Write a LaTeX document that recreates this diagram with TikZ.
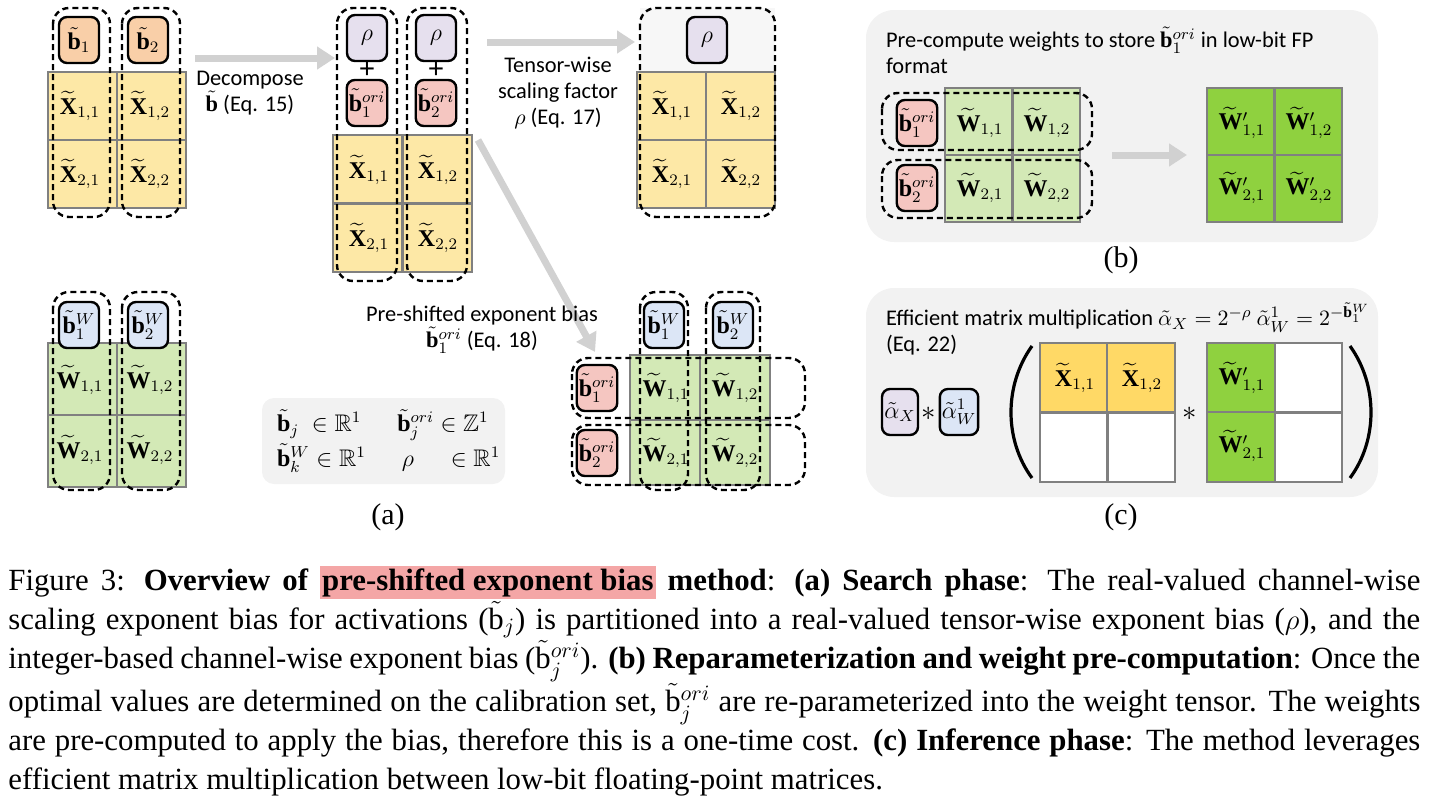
\documentclass[tikz,border=0pt]{standalone}
\usepackage{amsmath,amssymb}
\usepackage{fontspec}
\setmainfont{Liberation Serif}
\newfontfamily\labfont{Carlito}
\usepackage{xcolor}
\usetikzlibrary{arrows.meta}
\definecolor{peach}{HTML}{F9CFA8}
\definecolor{lyellow}{HTML}{FDE8A6}
\definecolor{gyellow}{HTML}{FFD966}
\definecolor{lgreen}{HTML}{D3E9B6}
\definecolor{dgreen}{HTML}{8FD13F}
\definecolor{lpurple}{HTML}{E6E0EE}
\definecolor{lpink}{HTML}{F5C6C1}
\definecolor{lblue}{HTML}{DCE6F6}
\definecolor{panel}{HTML}{F2F2F2}
\definecolor{hlpink}{HTML}{F4A6A6}
\newcommand\Xc[2]{$\widetilde{\mathbf{X}}_{#1,#2}$}
\newcommand\Wc[2]{$\widetilde{\mathbf{W}}_{#1,#2}$}
\newcommand\Wp[2]{$\widetilde{\mathbf{W}}'_{#1,#2}$}
\newcommand\bori[1]{$\tilde{\mathbf b}_{#1}^{ori}$}
\newcommand\bW[1]{$\tilde{\mathbf b}_{#1}^{W}$}
% 2x2 grid: x1,y1,x2,y2,fill
\newcommand\gridbox[5]{%
  \fill[#5] (#1,#2) rectangle (#3,#4);
  \draw[gridline] (#1,#2) rectangle (#3,#4)
    ({(#1+#3)/2},#2) -- ({(#1+#3)/2},#4) (#1,{(#2+#4)/2}) -- (#3,{(#2+#4)/2});}
\begin{document}
\begin{tikzpicture}[x=0.5pt, y=-0.5pt,
  gridline/.style={draw=black!50, line width=1.2pt},
  dashbox/.style={draw, dashed, line width=1.2pt, rounded corners=8pt, dash pattern=on 3pt off 2pt},
  bnode/.style={draw, line width=1.2pt, rounded corners=4pt, minimum width=20pt, minimum height=23pt, inner sep=1pt, font=\large},
  cell/.style={inner sep=0pt, font=\large},
  lab/.style={font=\labfont\fontsize{11.2}{13}\selectfont, align=center},
  garrow/.style={draw=black!18, line width=3.5pt, -{Triangle[length=9pt,width=11pt]}},
  paren/.style={line width=1.6pt},
  sub/.style={font=\fontsize{15}{18}\selectfont}]
\useasboundingbox (0,0) rectangle (1431,798);

% ---------- (a) ----------
\gridbox{48}{72}{186}{208}{lyellow}
\draw[dashbox] (53,8) rectangle (110,217);
\draw[dashbox] (122,8) rectangle (180,217);
\node[bnode, fill=peach] (b1) at (79,40) {$\tilde{\mathbf b}_1$};
\node[bnode, fill=peach] (b2) at (148,40) {$\tilde{\mathbf b}_2$};
\node[cell] (xa11) at (80,106) {\Xc11};
\node[cell] (xa12) at (150,106) {\Xc12};
\node[cell] (xa21) at (80,174) {\Xc21};
\node[cell] (xa22) at (150,174) {\Xc22};

\coordinate (dec0) at (195,58);
\coordinate (dec1) at (335,58);
\draw[garrow] (dec0) -- (dec1);
\node[lab] (declab) at (250,93) {Decompose\\$\tilde{\mathbf b}$ (Eq. 15)};

\gridbox{333}{135}{472}{272}{lyellow}
\draw[dashbox] (337,8) rectangle (397,281);
\draw[dashbox] (407,8) rectangle (467,281);
\node[bnode, fill=lpurple] (rho1) at (367,38) {$\rho$};
\node[bnode, fill=lpurple] (rho2) at (436,38) {$\rho$};
\node[font=\bfseries\Large] (plus1) at (367,70) {+};
\node[font=\bfseries\Large] (plus2) at (436,70) {+};
\node[bnode, fill=lpink] (bo1) at (367,103) {\bori1};
\node[bnode, fill=lpink] (bo2) at (436,103) {\bori2};
\node[cell] (xb11) at (369,170) {\Xc11};
\node[cell] (xb12) at (438,170) {\Xc12};
\node[cell] (xb21) at (369,238) {\Xc21};
\node[cell] (xb22) at (438,238) {\Xc22};

\coordinate (ten0) at (487,42);
\coordinate (ten1) at (635,42);
\draw[garrow] (ten0) -- (ten1);
\node[lab] (tenlab) at (558,93) {Tensor-wise\\scaling factor\\$\rho$ (Eq. 17)};

\fill[black!3] (640,8) rectangle (775,72);
\gridbox{637}{72}{775}{208}{lyellow}
\draw[dashbox] (640,8) rectangle (775,217);
\node[bnode, fill=lpurple] (rho3) at (707,40) {$\rho$};
\node[cell] (xc11) at (672,106) {\Xc11};
\node[cell] (xc12) at (741,106) {\Xc12};
\node[cell] (xc21) at (672,174) {\Xc21};
\node[cell] (xc22) at (741,174) {\Xc22};

\coordinate (pre0) at (478,140);
\coordinate (pre1) at (595,352);
\draw[garrow] (pre0) -- (pre1);
\node[lab] (prelab) at (482,330) {Pre-shifted exponent bias\\\bori1 (Eq. 18)};

\gridbox{630}{355}{770}{485}{lgreen}
\draw[dashbox] (640,292) rectangle (688,490);
\draw[dashbox] (706,292) rectangle (760,490);
\draw[dashbox] (572,358) rectangle (805,418);
\draw[dashbox] (572,425) rectangle (805,485);
\node[bnode, fill=lblue] (bw3) at (664,325) {\bW1};
\node[bnode, fill=lblue] (bw4) at (733,325) {\bW2};
\node[bnode, fill=lpink] (bo3) at (597,388) {\bori1};
\node[bnode, fill=lpink] (bo4) at (597,453) {\bori2};
\node[cell] (wa11) at (666,388) {\Wc11};
\node[cell] (wa12) at (735,388) {\Wc12};
\node[cell] (wa21) at (666,453) {\Wc21};
\node[cell] (wa22) at (735,453) {\Wc22};

\gridbox{48}{343}{186}{487}{lgreen}
\draw[dashbox] (53,292) rectangle (110,490);
\draw[dashbox] (122,292) rectangle (180,490);
\node[bnode, fill=lblue] (bw1) at (79,325) {\bW1};
\node[bnode, fill=lblue] (bw2) at (148,325) {\bW2};
\node[cell] (wb11) at (80,380) {\Wc11};
\node[cell] (wb12) at (150,380) {\Wc12};
\node[cell] (wb21) at (80,450) {\Wc21};
\node[cell] (wb22) at (150,450) {\Wc22};

\fill[panel, rounded corners=6pt] (262,398) rectangle (505,484);
\node[anchor=west, font=\large] (leg1) at (270,425) {$\tilde{\mathbf b}_j\ \in \mathbb{R}^1 \quad\ \ \tilde{\mathbf b}_j^{ori} \in \mathbb{Z}^1$};
\node[anchor=west, font=\large] (leg2) at (270,458) {$\tilde{\mathbf b}_k^W \in \mathbb{R}^1 \quad\ \ \rho \quad\ \in \mathbb{R}^1$};
\node[sub] (suba) at (388,517) {(a)};

% ---------- (b) ----------
\fill[panel, rounded corners=14pt] (866,10) rectangle (1378,242);
\node[lab, anchor=north west, align=left] (btitle) at (879,20) {Pre-compute weights to store \bori1 in low-bit FP\\format};
\gridbox{945}{88}{1080}{222}{lgreen}
\draw[dashbox] (882,93) rectangle (1092,150);
\draw[dashbox] (882,160) rectangle (1092,218);
\node[bnode, fill=lpink] (bo5) at (917,123) {\bori1};
\node[bnode, fill=lpink] (bo6) at (917,188) {\bori2};
\node[cell] (wc11) at (980,123) {\Wc11};
\node[cell] (wc12) at (1047,123) {\Wc12};
\node[cell] (wc21) at (980,188) {\Wc21};
\node[cell] (wc22) at (1047,188) {\Wc22};
\coordinate (st0) at (1112,155);
\coordinate (st1) at (1187,155);
\draw[garrow] (st0) -- (st1);
\gridbox{1207}{88}{1342}{222}{dgreen}
\node[cell] (wd11) at (1242,123) {\Wp11};
\node[cell] (wd12) at (1309,123) {\Wp12};
\node[cell] (wd21) at (1242,188) {\Wp21};
\node[cell] (wd22) at (1309,188) {\Wp22};
\node[sub] (subb) at (1121,260) {(b)};

% ---------- (c) ----------
\fill[panel, rounded corners=14pt] (866,288) rectangle (1378,497);
\node[lab, anchor=north west, align=left] (ctitle) at (879,296) {Efficient matrix multiplication $\tilde{\alpha}_X = 2^{-\rho}\ \tilde{\alpha}_W^1 = 2^{-\tilde{\mathbf b}_1^W}$\\(Eq. 22)};
\node[bnode, fill=lpurple, minimum width=18pt] (ax) at (900,412) {$\tilde{\alpha}_X$};
\node[inner sep=0pt] (mul1) at (929,414) {\Large $*$};
\node[bnode, fill=lblue, minimum width=18pt] (aw) at (959,412) {$\tilde{\alpha}_W^1$};
\draw[paren] (1032,346) .. controls (1004,385) and (1004,440) .. (1032,478);
\gridbox{1040}{343}{1175}{482}{white}
\fill[gyellow] (1040,343) rectangle (1175,412);
\draw[gridline] (1040,343) rectangle (1175,482) (1107,343) -- (1107,482) (1040,412) -- (1175,412);
\node[cell] (xd11) at (1075,378) {\Xc11};
\node[cell] (xd12) at (1142,378) {\Xc12};
\node (mul2) at (1190,414) {\Large $*$};
\gridbox{1207}{343}{1342}{482}{white}
\fill[dgreen] (1207,343) rectangle (1275,482);
\draw[gridline] (1207,343) rectangle (1342,482) (1275,343) -- (1275,482) (1207,412) -- (1342,412);
\node[cell] (we11) at (1242,378) {\Wp11};
\node[cell] (we21) at (1242,446) {\Wp21};
\draw[paren] (1350,346) .. controls (1378,385) and (1378,440) .. (1350,478);
\node[sub] (subc) at (1121,517) {(c)};

% ---------- caption ----------
\node[anchor=north west, text width=706pt, align=justify, inner sep=0pt,
  font=\fontsize{15.4}{19.5}\selectfont] (caption) at (8,566) {\hyphenpenalty=10000 Figure 3: \textbf{Overview of {\setlength{\fboxsep}{1pt}\colorbox{hlpink}{pre-shifted exponent bias}} method}: \textbf{(a) Search phase}: The real-valued channel-wise\linebreak scaling exponent bias for activations ($\tilde{\mathrm b}_j$) is partitioned into a real-valued tensor-wise exponent bias ($\rho$), and the\linebreak integer-based channel-wise exponent bias ($\tilde{\mathrm b}_j^{ori}$). \textbf{(b) Reparameterization and weight pre-computation}: Once the\linebreak optimal values are determined on the calibration set, $\tilde{\mathrm b}_j^{ori}$ are re-parameterized into the weight tensor. The weights\linebreak are pre-computed to apply the bias, therefore this is a one-time cost. \textbf{(c) Inference phase}: The method leverages\linebreak efficient matrix multiplication between low-bit floating-point matrices.};
\end{tikzpicture}
\end{document}
